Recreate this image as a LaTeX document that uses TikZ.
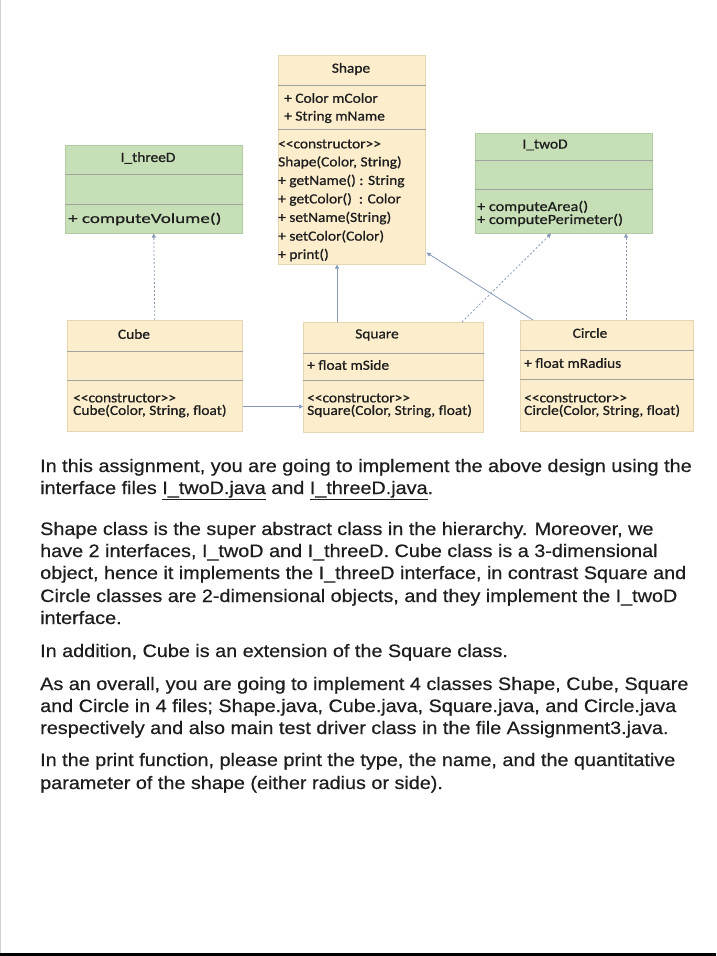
\documentclass[tikz,border=0pt]{standalone}
\usepackage{fontspec}
\usetikzlibrary{arrows.meta,calc}
\newfontfamily\umlfont[FakeStretch=1.1, FakeBold=0.8]{Carlito}
\newfontfamily\umlwide[FakeStretch=1.36, FakeBold=0.8]{Carlito}
\newfontfamily\umlmid[FakeStretch=1.16, FakeBold=0.8]{Carlito}
\newfontfamily\bodyfont[FakeStretch=1.1, FakeBold=0.5]{Liberation Sans}
\definecolor{cream}{HTML}{FCEDCD}
\definecolor{creamline}{HTML}{E6D6B4}
\definecolor{ifgreen}{HTML}{C7DFB6}
\definecolor{greenline}{HTML}{B2CBA3}
\definecolor{divline}{HTML}{A3A39D}
\definecolor{conn}{HTML}{8799B8}
\definecolor{txt}{HTML}{1E1E1E}
\tikzset{
  comp/.style={draw=creamline, fill=cream, anchor=north west, inner sep=0pt, line width=0.6pt},
  gcomp/.style={draw=greenline, fill=ifgreen, anchor=north west, inner sep=0pt, line width=0.6pt},
  divider/.style={draw=divline, line width=0.8pt},
  ttl/.style={font=\umlfont\fontsize{14}{16}\selectfont, text=txt, inner sep=0pt},
  lft/.style={ttl, anchor=west},
  body/.style={font=\bodyfont\fontsize{18}{22}\selectfont, text=txt, inner sep=0pt, anchor=base west},
  solidconn/.style={draw=conn, line width=0.8pt, -{Triangle[width=4pt,length=4pt]}},
  dashconn/.style={draw=conn, line width=0.8pt, dash pattern=on 2pt off 2pt, -{Triangle[width=4pt,length=4pt]}}
}
\begin{document}
\begin{tikzpicture}[x=1pt,y=-1pt]
\useasboundingbox (0,0) rectangle (716,956);
\fill[white] (0,0) rectangle (716,956);
\fill[black!18] (0,0) rectangle (1.2,956);
\fill[black] (0,953) rectangle (716,956);

% ---------- Shape ----------
\node[comp, minimum width=147pt, minimum height=30pt]  (shapeT) at (278,55) {};
\node[comp, minimum width=147pt, minimum height=44pt]  (shapeA) at (278,85) {};
\node[comp, minimum width=147pt, minimum height=135pt] (shapeM) at (278,129) {};
\draw[divider] (shapeT.south west) -- (shapeT.south east);
\draw[divider] (shapeA.south west) -- (shapeA.south east);
\node[ttl] (shapeN) at (351,69) {Shape};
\node[lft] (shapeA1) at (284,98) {+ Color mColor};
\node[lft] (shapeA2) at (284,117) {+ String mName};
\node[lft] (shapeM1) at (278,144) {<{}<constructor>{}>};
\node[lft] (shapeM2) at (278,162.5) {Shape(Color, String)};
\node[lft] (shapeM3) at (278,181) {+ getName() : String};
\node[lft] (shapeM4) at (278,199.5) {+ getColor()\ \ : Color};
\node[lft] (shapeM5) at (278,218) {+ setName(String)};
\node[lft] (shapeM6) at (278,236.5) {+ setColor(Color)};
\node[lft] (shapeM7) at (278,255) {+ print()};

% ---------- I_threeD ----------
\node[gcomp, minimum width=177pt, minimum height=29pt] (threeT) at (65,145) {};
\node[gcomp, minimum width=177pt, minimum height=30pt] (threeA) at (65,174) {};
\node[gcomp, minimum width=177pt, minimum height=29pt] (threeM) at (65,204) {};
\draw[divider] (threeT.south west) -- (threeT.south east);
\draw[divider] (threeA.south west) -- (threeA.south east);
\node[ttl] (threeN) at (148,158) {I\_threeD};
\node[lft, font=\umlwide\fontsize{14}{16}\selectfont] (threeM1) at (68,219) {+ computeVolume()};

% ---------- I_twoD ----------
\node[gcomp, minimum width=177pt, minimum height=27pt] (twoT) at (475,133) {};
\node[gcomp, minimum width=177pt, minimum height=29pt] (twoA) at (475,160) {};
\node[gcomp, minimum width=177pt, minimum height=44pt] (twoM) at (475,189) {};
\draw[divider] (twoT.south west) -- (twoT.south east);
\draw[divider] (twoA.south west) -- (twoA.south east);
\node[ttl] (twoN) at (545,145) {I\_twoD};
\node[lft, font=\umlmid\fontsize{14}{16}\selectfont] (twoM1) at (477,207) {+ computeArea()};
\node[lft, font=\umlmid\fontsize{14}{16}\selectfont] (twoM2) at (477,220) {+ computePerimeter()};

% ---------- Cube ----------
\node[comp, minimum width=175pt, minimum height=31pt] (cubeT) at (67,320) {};
\node[comp, minimum width=175pt, minimum height=29pt] (cubeA) at (67,351) {};
\node[comp, minimum width=175pt, minimum height=51pt] (cubeM) at (67,380) {};
\draw[divider] (cubeT.south west) -- (cubeT.south east);
\draw[divider] (cubeA.south west) -- (cubeA.south east);
\node[ttl] (cubeN) at (134,334) {Cube};
\node[lft] (cubeM1) at (73,398) {<{}<constructor>{}>};
\node[lft] (cubeM2) at (73,411) {Cube(Color, String, float)};

% ---------- Square ----------
\node[comp, minimum width=180pt, minimum height=31pt] (squareT) at (303,322) {};
\node[comp, minimum width=180pt, minimum height=27pt] (squareA) at (303,353) {};
\node[comp, minimum width=180pt, minimum height=52pt] (squareM) at (303,380) {};
\draw[divider] (squareT.south west) -- (squareT.south east);
\draw[divider] (squareA.south west) -- (squareA.south east);
\node[ttl] (squareN) at (377,335) {Square};
\node[lft] (squareA1) at (307,365) {+ float mSide};
\node[lft] (squareM1) at (307,398) {<{}<constructor>{}>};
\node[lft] (squareM2) at (307,411) {Square(Color, String, float)};

% ---------- Circle ----------
\node[comp, minimum width=173pt, minimum height=30pt] (circleT) at (520,320) {};
\node[comp, minimum width=173pt, minimum height=29pt] (circleA) at (520,350) {};
\node[comp, minimum width=173pt, minimum height=52pt] (circleM) at (520,379) {};
\draw[divider] (circleT.south west) -- (circleT.south east);
\draw[divider] (circleA.south west) -- (circleA.south east);
\node[ttl] (circleN) at (590,333) {Circle};
\node[lft] (circleA1) at (524,363) {+ float mRadius};
\node[lft] (circleM1) at (524,398) {<{}<constructor>{}>};
\node[lft] (circleM2) at (524,411) {Circle(Color, String, float)};

% ---------- connectors ----------
\draw[dashconn] (cubeT.north) -- (threeM.south);
\draw[solidconn] ($(squareT.north west)+(34,0)$) -- ($(shapeM.south west)+(59,0)$);
\draw[solidconn] ($(circleT.north west)+(13,0)$) -- ($(shapeM.south east)+(1,-12)$);
\draw[dashconn] ($(squareT.north west)+(159,0)$) -- ($(twoM.south west)+(76,0)$);
\draw[dashconn] ($(circleT.north west)+(106,0)$) -- ($(twoM.south west)+(151,0)$);
\draw[solidconn] ($(cubeM.south east)+(0,-25)$) -- ($(squareM.south west)+(0,-26)$);

% ---------- text ----------
\node[body] (p1a) at (40,472) {In this assignment, you are going to implement the above design using the};
\node[body] (p1b) at (40,494) {interface files \underline{I\_twoD.java} and \underline{I\_threeD.java}.};
\node[body] (p2a) at (40,535) {Shape class is the super abstract class in the hierarchy. Moreover, we};
\node[body] (p2b) at (40,557) {have 2 interfaces, I\_twoD and I\_threeD. Cube class is a 3-dimensional};
\node[body] (p2c) at (40,579) {object, hence it implements the I\_threeD interface, in contrast Square and};
\node[body] (p2d) at (40,602) {Circle classes are 2-dimensional objects, and they implement the I\_twoD};
\node[body] (p2e) at (40,624) {interface.};
\node[body] (p3a) at (40,657) {In addition, Cube is an extension of the Square class.};
\node[body] (p4a) at (40,690) {As an overall, you are going to implement 4 classes Shape, Cube, Square};
\node[body] (p4b) at (40,712) {and Circle in 4 files; Shape.java, Cube.java, Square.java, and Circle.java};
\node[body] (p4c) at (40,734) {respectively and also main test driver class in the file Assignment3.java.};
\node[body] (p5a) at (40,766) {In the print function, please print the type, the name, and the quantitative};
\node[body] (p5b) at (40,789) {parameter of the shape (either radius or side).};
\end{tikzpicture}
\end{document}
